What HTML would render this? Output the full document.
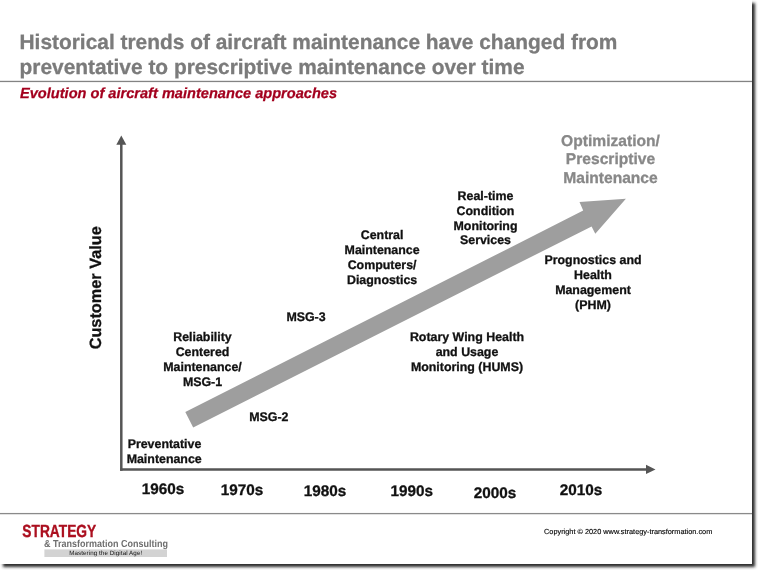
<!DOCTYPE html>
<html><head><meta charset="utf-8">
<title>Historical trends of aircraft maintenance</title>
<style>
html,body{margin:0;padding:0;background:#fff;width:759px;height:571px;overflow:hidden}
svg{display:block}
text{font-family:"Liberation Sans",Arial,sans-serif;text-rendering:geometricPrecision}
.b{font-weight:bold;font-size:12.4px;fill:#111;stroke:#111;stroke-width:0.3px}
.m{text-anchor:middle}
.yr{font-weight:bold;font-size:15.3px;fill:#111;stroke:#111;stroke-width:0.3px}
</style></head><body>
<svg width="759" height="571" viewBox="0 0 759 571">
<defs>
<filter id="sh" x="-2%" y="-2%" width="104%" height="104%"><feGaussianBlur stdDeviation="1.6"/></filter>
</defs>
<!-- slide shadow -->
<rect x="3" y="3" width="752" height="564" fill="#2a2a2a" filter="url(#sh)"/>
<rect x="0" y="0" width="752" height="564" fill="#fff"/>

<!-- title -->
<text x="19.5" y="49" style="font-weight:bold;font-size:20.9px;fill:#7b7b7b;stroke:#7b7b7b;stroke-width:0.3px">Historical trends of aircraft maintenance have changed from</text>
<text x="19.5" y="74" style="font-weight:bold;font-size:20.9px;fill:#7b7b7b;stroke:#7b7b7b;stroke-width:0.3px">preventative to prescriptive maintenance over time</text>
<rect x="0" y="80.8" width="752" height="1.3" fill="#838383"/>
<text x="20" y="97.5" style="font-weight:bold;font-style:italic;font-size:14.6px;fill:#a3001e;stroke:#a3001e;stroke-width:0.25px">Evolution of aircraft maintenance approaches</text>

<!-- axes -->
<line x1="121.3" y1="470.7" x2="121.3" y2="143" stroke="#555" stroke-width="2.5"/>
<polygon points="121.3,135.4 116.3,144.8 126.3,144.8" fill="#555"/>
<line x1="120.1" y1="469.5" x2="647" y2="469.5" stroke="#555" stroke-width="2.7"/>
<polygon points="655.5,469.4 646,464.8 646,474" fill="#555"/>
<text transform="translate(100.6,287.8) rotate(-90)" class="m" style="font-weight:bold;font-size:16.3px;fill:#111;stroke:#111;stroke-width:0.3px">Customer Value</text>

<!-- big arrow -->
<polygon points="185.3,412.1 193.2,427.4 591.6,226.4 595.3,233.8 625.9,198.8 579.5,202.1 583.2,210.6" fill="#9e9e9e"/>

<!-- optimization -->
<g style="font-weight:bold;font-size:15.6px;fill:#888;stroke:#888;stroke-width:0.3px" class="m">
<text x="610.5" y="146.3" class="m">Optimization/</text>
<text x="610.5" y="164.3" class="m">Prescriptive</text>
<text x="610.5" y="182.5" class="m">Maintenance</text>
</g>

<!-- labels -->
<g class="b">
<text x="164.5" y="447.8" class="b m">Preventative</text>
<text x="164.2" y="463.2" class="b m">Maintenance</text>

<text x="202.5" y="341.2" class="b m">Reliability</text>
<text x="202.5" y="356.2" class="b m">Centered</text>
<text x="202.5" y="371.2" class="b m">Maintenance/</text>
<text x="202.5" y="386.0" class="b m">MSG-1</text>

<text x="268.8" y="420.7" class="b m">MSG-2</text>
<text x="306" y="321.4" class="b m">MSG-3</text>

<text x="382.1" y="239.4" class="b m">Central</text>
<text x="382.1" y="254.3" class="b m">Maintenance</text>
<text x="382.1" y="269.1" class="b m">Computers/</text>
<text x="382.1" y="284.0" class="b m">Diagnostics</text>

<text x="485.5" y="199.6" class="b m">Real-time</text>
<text x="485.5" y="214.7" class="b m">Condition</text>
<text x="485.5" y="229.5" class="b m">Monitoring</text>
<text x="485.5" y="244.4" class="b m">Services</text>

<text x="467" y="341.1" class="b m">Rotary Wing Health</text>
<text x="467" y="355.8" class="b m">and Usage</text>
<text x="467" y="370.6" class="b m">Monitoring (HUMS)</text>

<text x="593" y="264.1" class="b m">Prognostics and</text>
<text x="593" y="278.9" class="b m">Health</text>
<text x="593" y="293.7" class="b m">Management</text>
<text x="593" y="308.6" class="b m">(PHM)</text>
</g>

<!-- years -->
<text x="162.9" y="493.6" class="yr m">1960s</text>
<text x="241.9" y="494.8" class="yr m">1970s</text>
<text x="324.9" y="495.6" class="yr m">1980s</text>
<text x="411.8" y="495.9" class="yr m">1990s</text>
<text x="495" y="497.5" class="yr m">2000s</text>
<text x="581.1" y="495.2" class="yr m">2010s</text>

<!-- footer -->
<rect x="0" y="512.95" width="752" height="1.3" fill="#8a8a8a"/>
<text x="544" y="534.2" style="font-size:7.35px;fill:#000;stroke:#000;stroke-width:0.12px">Copyright © 2020 www.strategy-transformation.com</text>

<!-- logo -->
<text x="22.3" y="537.1" transform="translate(22.3,0) scale(0.782,1) translate(-22.3,0)" style="font-weight:bold;font-size:17.6px;fill:#ab0f1f;stroke:#ab0f1f;stroke-width:0.35px">STRATEGY</text>
<text x="44" y="546.6" transform="translate(44,0) scale(0.883,1) translate(-44,0)" style="font-weight:bold;font-size:10.2px;fill:#6e6e6e">&amp; Transformation Consulting</text>
<rect x="44.4" y="549.4" width="122.6" height="7.6" fill="#d3d3d3"/>
<text x="105.7" y="555.1" class="m" style="font-size:6.2px;fill:#111;letter-spacing:0.1px">Mastering the Digital Age!</text>
</svg>
</body></html>
